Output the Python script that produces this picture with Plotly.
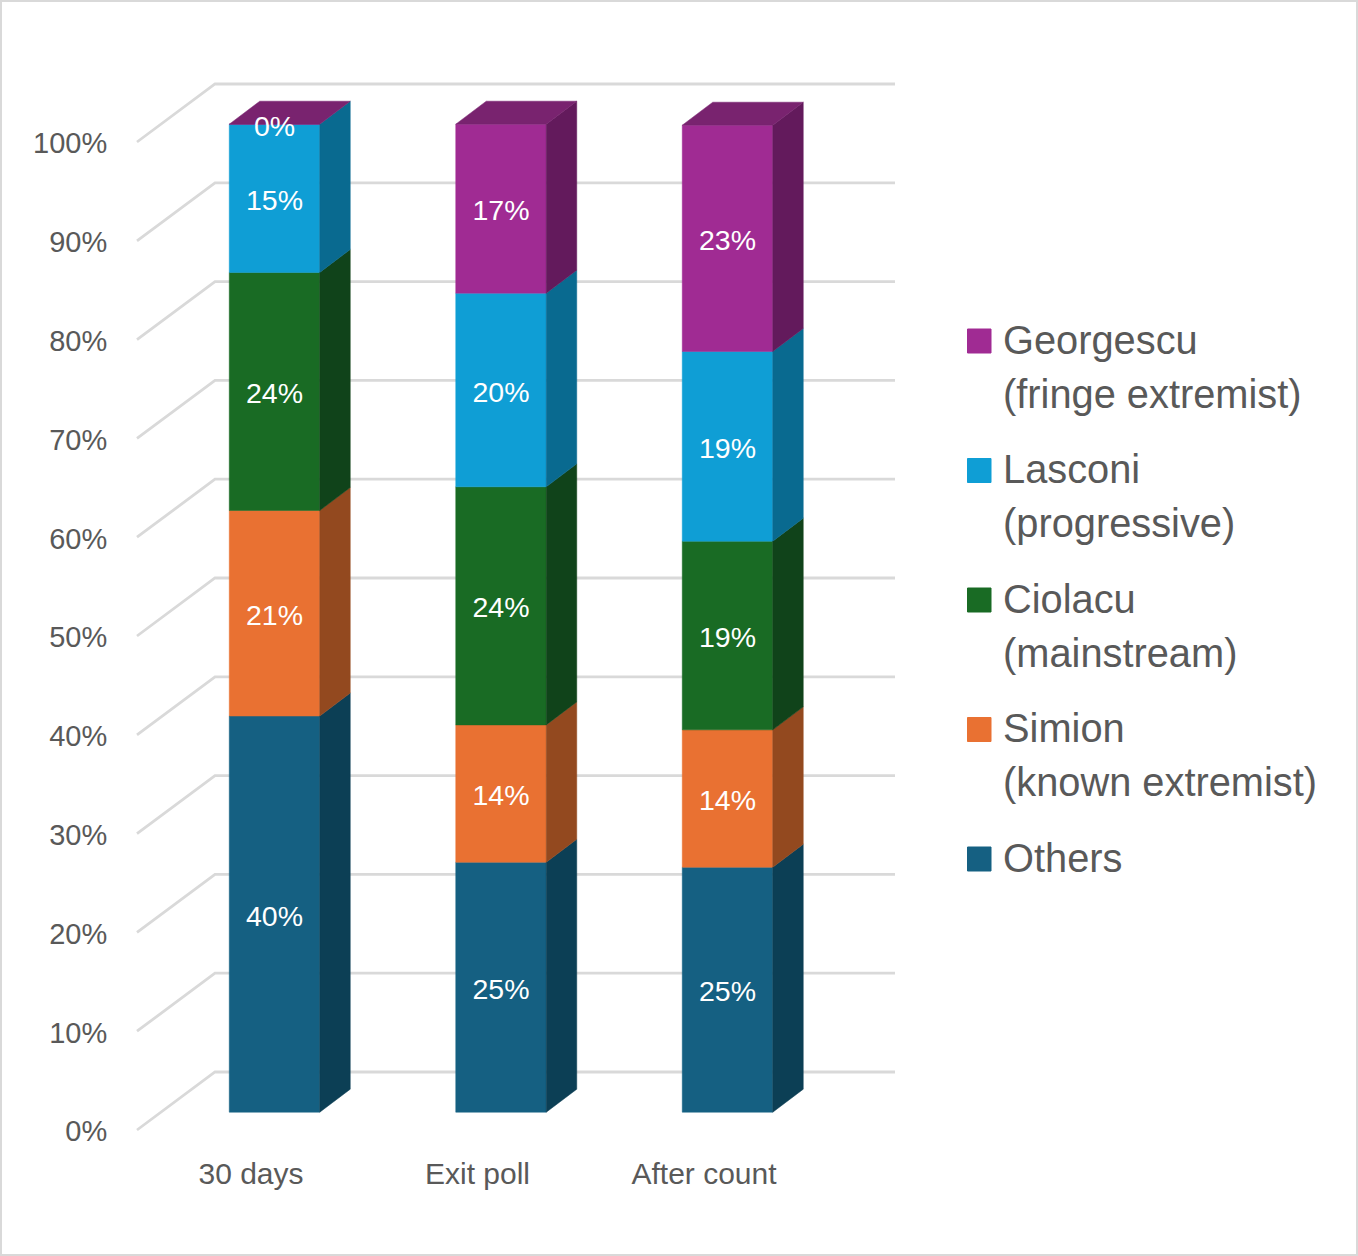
import plotly.graph_objects as go

# ---------- data ----------
categories = ["30 days", "Exit poll", "After count"]
series_names = ["Others", "Simion", "Ciolacu", "Lasconi", "Georgescu"]
series_notes = ["", "(known extremist)", "(mainstream)", "(progressive)", "(fringe extremist)"]
others = [40.1, 25.3, 24.8]
simion = [20.8, 13.9, 13.9]
ciolacu = [24.1, 24.1, 19.1]
lasconi = [15.0, 19.6, 19.2]
georgescu = [0.0, 17.1, 22.9]
tick_values = [0, 10, 20, 30, 40, 50, 60, 70, 80, 90, 100]

series_values = [others, simion, ciolacu, lasconi, georgescu]

# ---------- style ----------
W, H = 1358, 1256
ML, MR, MT, MB = 130, 458, 70, 124
Y0_PX, Y_PX_PER_UNIT = 1131.2, 9.88
X0_PX, X_PX_PER_UNIT = 251, 226.5
FONT = "Liberation Sans"
TXT = "#595959"
GRID = "#d9d9d9"
front_colors = ["#156082", "#E97132", "#196B24", "#0F9ED5", "#A02B93"]
side_colors = ["#0C3F55", "#93491F", "#10431A", "#096A90", "#631A5C"]
top_color = "#79236F"

xrange = [(ML - X0_PX) / X_PX_PER_UNIT, (W - MR - X0_PX) / X_PX_PER_UNIT]
yrange = [(Y0_PX - (H - MB)) / Y_PX_PER_UNIT, (Y0_PX - MT) / Y_PX_PER_UNIT]

bar_lift = 19 / Y_PX_PER_UNIT            # front of the bars sits above the floor's front edge
bar_offset = 23.5 / X_PX_PER_UNIT - 90.5 / 2 / X_PX_PER_UNIT
bar_width = 90.5 / X_PX_PER_UNIT
bar_dx, bar_dy = 30.5 / X_PX_PER_UNIT, 23 / Y_PX_PER_UNIT
wall_dx, wall_dy = 78 / X_PX_PER_UNIT, 58 / Y_PX_PER_UNIT
wall_left = (137 - X0_PX) / X_PX_PER_UNIT
wall_right = (895 - X0_PX) / X_PX_PER_UNIT
grid_shift = 1.2 / Y_PX_PER_UNIT
label_shift = 4.5 / Y_PX_PER_UNIT

def px_x(p):
    return (p - ML) / (W - ML - MR)

def px_y(p):
    return 1 - (p - MT) / (H - MT - MB)

positions = list(range(len(categories)))
fig = go.Figure()

# back wall gridlines (below everything)
shapes = []
for v in tick_values:
    g = v + grid_shift
    path = (f"M {wall_left},{g} L {wall_left + wall_dx},{g + wall_dy} "
            f"L {wall_right},{g + wall_dy}")
    shapes.append(dict(type="path", path=path, xref="x", yref="y", layer="below",
                       line=dict(color=GRID, width=2.8)))

# stacked front faces, side faces, top faces and value labels
cum = [bar_lift] * len(categories)
label_x, label_y, label_t = [], [], []
for name, vals, fc, sc in zip(series_names, series_values, front_colors, side_colors):
    fig.add_trace(go.Bar(
        x=positions, y=vals, base=cum, width=bar_width, offset=bar_offset,
        name=name, marker=dict(color=fc, line=dict(color=fc, width=0.5)),
        showlegend=False, hoverinfo="skip"))
    for i, p in enumerate(positions):
        if vals[i] <= 0:
            continue
        xr = p + bar_offset + bar_width
        b, t = cum[i], cum[i] + vals[i]
        fig.add_trace(go.Scatter(
            x=[xr, xr + bar_dx, xr + bar_dx, xr, xr],
            y=[b, b + bar_dy, t + bar_dy, t, b],
            mode="lines", fill="toself", fillcolor=sc,
            line=dict(color=sc, width=0.5), showlegend=False, hoverinfo="skip"))
        label_x.append(p + bar_offset + bar_width / 2)
        label_y.append(b + vals[i] / 2 - label_shift)
        label_t.append(f"{round(vals[i])}%")
    if max(vals) > 0 and min(vals) <= 0:
        i = vals.index(min(vals))
        label_x.append(positions[i] + bar_offset + bar_width / 2)
        label_y.append(cum[i] - label_shift)
        label_t.append("0%")
    cum = [c + v for c, v in zip(cum, vals)]

for i, p in enumerate(positions):
    xl = p + bar_offset
    xr = xl + bar_width
    t = cum[i]
    fig.add_trace(go.Scatter(
        x=[xl, xr, xr + bar_dx, xl + bar_dx, xl],
        y=[t, t, t + bar_dy, t + bar_dy, t],
        mode="lines", fill="toself", fillcolor=top_color,
        line=dict(color=top_color, width=0.5), showlegend=False, hoverinfo="skip"))

fig.add_trace(go.Scatter(
    x=label_x, y=label_y, text=label_t, mode="text", textposition="middle center",
    textfont=dict(family=FONT, size=28.5, color="white"), showlegend=False,
    hoverinfo="skip", cliponaxis=False))

# frame
shapes.append(dict(type="rect", xref="paper", yref="paper", layer="below",
                   x0=px_x(1), x1=px_x(W - 1), y0=px_y(H - 1), y1=px_y(1),
                   line=dict(color="#d9d9d9", width=2), fillcolor="rgba(0,0,0,0)"))

# legend, drawn by hand to keep its large swatches and two-line spacing
annotations = []
legend_px = [341, 470.5, 600, 729.5, 859]
for k, idx in enumerate(reversed(range(len(series_names)))):
    yc = legend_px[k]
    shapes.append(dict(type="rect", xref="paper", yref="paper",
                       x0=px_x(967.5), x1=px_x(991), y0=px_y(yc + 12), y1=px_y(yc - 12),
                       fillcolor=front_colors[idx], line=dict(color=front_colors[idx], width=1)))
    annotations.append(dict(text=series_names[idx], xref="paper", yref="paper",
                            x=px_x(1002), y=px_y(yc - 1.5), xanchor="left", yanchor="middle",
                            showarrow=False, align="left", borderpad=0,
                            font=dict(family=FONT, size=39.8, color=TXT)))
    if series_notes[idx]:
        annotations.append(dict(text=series_notes[idx], xref="paper", yref="paper",
                                x=px_x(1002), y=px_y(yc + 52.5), xanchor="left", yanchor="middle",
                                showarrow=False, align="left", borderpad=0,
                                font=dict(family=FONT, size=39.8, color=TXT)))

fig.update_layout(
    width=W, height=H, autosize=False,
    margin=dict(l=ML, r=MR, t=MT, b=MB, pad=0),
    paper_bgcolor="white", plot_bgcolor="white",
    barmode="overlay", shapes=shapes, annotations=annotations,
    font=dict(family=FONT, color=TXT),
    xaxis=dict(range=xrange, tickmode="array", tickvals=positions, ticktext=categories,
               showgrid=False, zeroline=False, showline=False, ticks="outside", ticklen=15,
               tickcolor="rgba(0,0,0,0)", tickfont=dict(family=FONT, size=30, color=TXT)),
    yaxis=dict(range=yrange, tickmode="array", tickvals=tick_values,
               ticktext=[f"{v}%" for v in tick_values],
               showgrid=False, zeroline=False, showline=False, ticks="outside", ticklen=16,
               tickcolor="rgba(0,0,0,0)", tickfont=dict(family=FONT, size=29, color=TXT)),
)

fig.write_html("out.html", config={"displayModeBar": False},
               post_script="document.body.style.margin='0';")
